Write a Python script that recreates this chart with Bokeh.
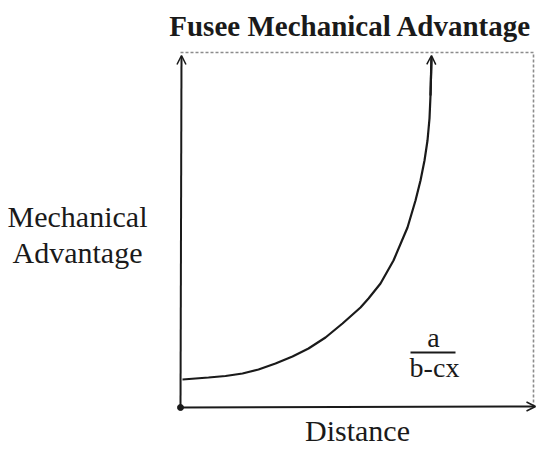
from bokeh.plotting import figure
from bokeh.embed import file_html
from bokeh.resources import INLINE
from bokeh.models import Range1d, Arrow, OpenHead
from bokeh.core.properties import value

# curve a/(b-cx) (distance, mechanical advantage)
curve_x = [2, 15, 28, 45, 62, 78, 95, 112, 128, 145, 162, 180, 188, 200, 213,
           227, 235, 240, 244, 247, 249, 250, 251]
curve_y = [28, 29, 30, 31.5, 34, 38, 44, 51, 59, 70, 84, 100, 109, 124, 147,
           180, 207, 227, 247, 267, 289, 312, 349]

x_axis_end = 355
y_axis_end = 352
box_right = 353
box_top = 355

TITLE = "Fusee Mechanical Advantage"
Y_LABEL = ["Mechanical", "Advantage"]
X_LABEL = "Distance"
FORMULA_TOP = "a"
FORMULA_BOTTOM = "b-cx"
FONT = "Liberation Serif"
INK = "#1a1a1a"

p = figure(
    width=547, height=458,
    x_range=Range1d(-180, 367), y_range=Range1d(-51, 407),
    x_axis_type=None, y_axis_type=None,
    toolbar_location=None, output_backend="svg",
    min_border=0, outline_line_color=None,
    background_fill_color="white", border_fill_color="white",
)
p.grid.visible = False

# dotted frame top and right
p.line([0, box_right, box_right], [box_top, box_top, 1],
       line_color="#8c8c8c", line_width=1.6, line_dash="3 2")

# axes with open arrow heads
p.add_layout(Arrow(end=OpenHead(size=9, line_width=1.5, line_color=INK),
                   x_start=0, y_start=0, x_end=1, y_end=y_axis_end,
                   line_width=2, line_color=INK))
p.add_layout(Arrow(end=OpenHead(size=9, line_width=1.5, line_color=INK),
                   x_start=0, y_start=0, x_end=x_axis_end, y_end=1,
                   line_width=2, line_color=INK))
p.scatter([0], [0], size=6, color=INK)

# curve
p.line(curve_x, curve_y, line_width=2.2, line_color=INK)
p.add_layout(Arrow(end=OpenHead(size=9, line_width=1.5, line_color=INK),
                   x_start=curve_x[-2], y_start=curve_y[-2],
                   x_end=curve_x[-1], y_end=curve_y[-1] + 3,
                   line_width=2.2, line_color=INK))

# texts
p.text([170], [382], text=[TITLE], text_font=value(FONT), text_font_size="29px",
       text_font_style="bold", text_align="center", text_baseline="alphabetic",
       text_color=INK)
p.text([-103, -103], [191, 155], text=Y_LABEL, text_font=value(FONT),
       text_font_size="30px", text_align="center", text_baseline="alphabetic",
       text_color=INK)
p.text([177], [-23], text=[X_LABEL], text_font=value(FONT), text_font_size="30px",
       text_align="center", text_baseline="alphabetic", text_color=INK)

# formula
p.text([253], [70], text=[FORMULA_TOP], text_font=value(FONT), text_font_size="28px",
       text_align="center", text_baseline="alphabetic", text_color=INK)
p.line([230, 275], [55, 55], line_width=2, line_color=INK)
p.text([254], [40], text=[FORMULA_BOTTOM], text_font=value(FONT), text_font_size="28px",
       text_align="center", text_baseline="alphabetic", text_color=INK)

open("out.html", "w").write(file_html(p, INLINE))
